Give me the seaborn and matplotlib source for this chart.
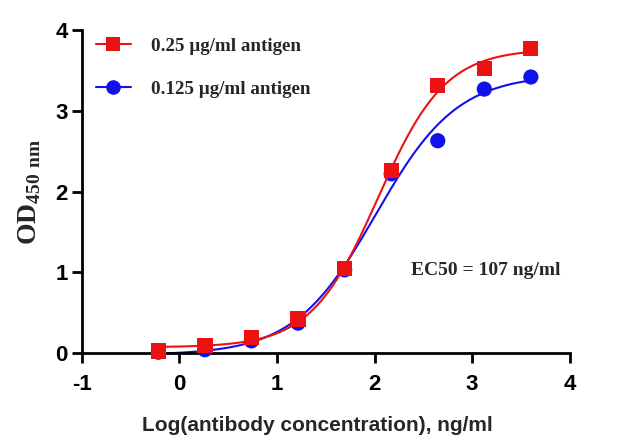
import numpy as np
import pandas as pd
import matplotlib
matplotlib.use("Agg")
import matplotlib.pyplot as plt
import seaborn as sns
from matplotlib.lines import Line2D

# ---- data ----
log_conc = [-0.215, 0.262, 0.739, 1.216, 1.694, 2.171, 2.648, 3.125, 3.602]
od_025 = [0.025, 0.09, 0.19, 0.42, 1.05, 2.26, 3.31, 3.53, 3.77]
od_0125 = [0.01, 0.04, 0.15, 0.37, 1.03, 2.22, 2.63, 3.27, 3.42]
series_labels = ["0.25 \u00b5g/ml antigen", "0.125 \u00b5g/ml antigen"]
colors = ["#ee1111", "#1111ee"]
ec50_text = "EC50 = 107 ng/ml"


def fpl(x, p):
    b, t, c, h = p
    return b + (t - b) / (1 + 10 ** ((c - x) * h))


def fit4pl(x, y):
    x = np.asarray(x, float); y = np.asarray(y, float)
    p = np.array([min(y), max(y), np.median(x), 1.0])
    lam = 1e-3
    for _ in range(500):
        r = y - fpl(x, p)
        J = np.zeros((len(x), 4))
        for k in range(4):
            dp = np.zeros(4); dp[k] = 1e-6
            J[:, k] = (fpl(x, p + dp) - fpl(x, p - dp)) / 2e-6
        A = J.T @ J
        g = J.T @ r
        step = np.linalg.solve(A + lam * np.diag(np.diag(A) + 1e-12), g)
        pn = p + step
        if np.sum((y - fpl(x, pn)) ** 2) < np.sum(r ** 2):
            p = pn; lam *= 0.3
        else:
            lam *= 10
    return p


sns.set_style("ticks")
plt.rcParams["axes.unicode_minus"] = False
plt.rcParams["mathtext.fontset"] = "custom"
plt.rcParams["mathtext.rm"] = "Liberation Serif"
plt.rcParams["mathtext.bf"] = "Liberation Serif:bold"

fig = plt.figure(figsize=(6.24, 4.44), dpi=100)
ax = fig.add_axes([0.131, 0.205, 0.782, 0.727])

xs = np.linspace(min(log_conc), max(log_conc), 300)
markers = ["s", "o"]
msizes = [120, 120]
handles = []
series = [od_025, od_0125]
# draw blue first so red sits on top
for idx in [1, 0]:
    ys, lab, col, mk, ms = series[idx], series_labels[idx], colors[idx], markers[idx], msizes[idx]
    p = fit4pl(log_conc, ys)
    z = 2 + (1 - idx) * 2
    sns.lineplot(x=xs, y=fpl(xs, p), ax=ax, color=col, linewidth=1.5, zorder=z)
    sns.scatterplot(x=log_conc, y=ys, ax=ax, color=col, marker=mk, s=ms,
                    edgecolor="none", zorder=z + 1, clip_on=False)
for col, mk in zip(colors, markers):
    handles.append(Line2D([0], [0], color=col, marker=mk, markersize=10.5,
                          linewidth=1.5, markeredgewidth=0))

ax.set_xlim(-1, 4)
ax.set_ylim(0, 4)
ax.set_xticks([-1, 0, 1, 2, 3, 4])
ax.set_yticks([0, 1, 2, 3, 4])
for s in ["top", "right"]:
    ax.spines[s].set_visible(False)
for s in ["left", "bottom"]:
    ax.spines[s].set_linewidth(2.0)
    ax.spines[s].set_color("black")
ax.tick_params(axis="both", direction="out", length=7, width=2.0, colors="black")
ax.tick_params(axis="x", pad=8)
ax.tick_params(axis="y", pad=3)
for lab in ax.get_xticklabels() + ax.get_yticklabels():
    lab.set_fontfamily("Liberation Sans")
    lab.set_fontweight("bold")
    lab.set_fontsize(16)

ax.set_xlabel("Log(antibody concentration), ng/ml", fontfamily="Liberation Sans",
              fontweight="bold", fontsize=15, labelpad=15, x=0.483)
ax.set_ylabel(r"$\mathbf{OD}_{\mathbf{450\ nm}}$", fontsize=20, labelpad=9)

leg = ax.legend(handles, series_labels, loc="upper left", bbox_to_anchor=(-0.006, 1.03),
                frameon=False, handlelength=1.84, handletextpad=1.05, labelspacing=1.34,
                prop={"family": "Liberation Serif", "weight": "bold", "size": 13.7})

ax.text(0.675, 0.255, ec50_text, transform=ax.transAxes, fontfamily="Liberation Serif",
        fontweight="bold", fontsize=14, ha="left", va="center")

fig.savefig("out.png", dpi=100)
